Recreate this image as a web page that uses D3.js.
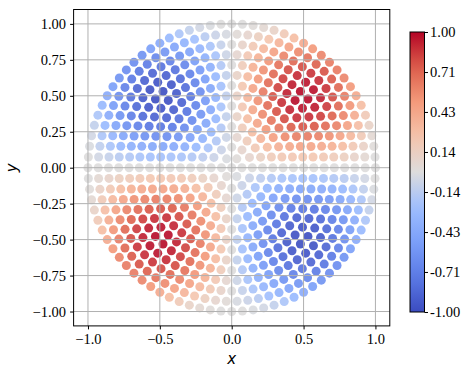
<!DOCTYPE html>
<html>
<head>
<meta charset="utf-8">
<script src="https://cdn.jsdelivr.net/npm/d3@7"></script>
<style>
  body { margin: 0; background: #fff; }
  svg text { font-family: "Liberation Serif", "DejaVu Serif", serif; fill: #000; }
</style>
</head>
<body>
<svg id="chart" width="474" height="378"></svg>
<script>
// radius of each ring of sample points (ring 0 is the centre point)
const ringRadius = [0, 0.071, 0.143, 0.214, 0.286, 0.357, 0.429, 0.5, 0.571, 0.643, 0.714, 0.786, 0.857, 0.929, 1.0];

// value of every point on each ring, counter-clockwise starting at the +x axis
const ring0 = [0];
const ring1 = [0, .02, -.02, 0, .02, -.02];
const ring2 = [0, .08, .08, 0, -.08, -.08, 0, .08, .08, 0, -.08, -.08];
const ring3 = [0, .13, .21, .18, .07, -.07, -.18, -.21, -.13, 0, .13, .21, .18, .07, -.07, -.18, -.21, -.13];
const ring4 = [0, .18, .30, .35, .30, .18, 0, -.18, -.30, -.35, -.30, -.18, 0, .18, .30, .35, .30, .18, 0, -.18, -.30, -.35, -.30, -.18];
const ring5 = [0, .21, .38, .48, .51, .44, .30, .11, -.11, -.30, -.44, -.51, -.48, -.38, -.21,
               0, .21, .38, .48, .51, .44, .30, .11, -.11, -.30, -.44, -.51, -.48, -.38, -.21];
const ring6 = [0, .22, .42, .57, .65, .65, .57, .42, .22, 0, -.22, -.42, -.57, -.65, -.65, -.57, -.42, -.22,
               0, .22, .42, .57, .65, .65, .57, .42, .22, 0, -.22, -.42, -.57, -.65, -.65, -.57, -.42, -.22];
const ring7 = [0, .23, .45, .62, .75, .80, .78, .69, .54, .34, .12, -.12, -.34, -.54, -.69, -.78, -.80, -.75, -.62, -.45, -.23,
               0, .23, .45, .62, .75, .80, .78, .69, .54, .34, .12, -.12, -.34, -.54, -.69, -.78, -.80, -.75, -.62, -.45, -.23];
const ring8 = [0, .23, .44, .63, .78, .88, .91, .88, .78, .63, .44, .23, 0, -.23, -.44, -.63, -.78, -.88, -.91, -.88, -.78, -.63, -.44, -.23,
               0, .23, .44, .63, .78, .88, .91, .88, .78, .63, .44, .23, 0, -.23, -.44, -.63, -.78, -.88, -.91, -.88, -.78, -.63, -.44, -.23];
const ring9 = [0, .21, .41, .60, .77, .89, .96, .98, .93, .83, .69, .51, .31, .11, -.11, -.31, -.51, -.69, -.83, -.93, -.98, -.96, -.89, -.77, -.60, -.41, -.21,
               0, .21, .41, .60, .77, .89, .96, .98, .93, .83, .69, .51, .31, .11, -.11, -.31, -.51, -.69, -.83, -.93, -.98, -.96, -.89, -.77, -.60, -.41, -.21];
const ring10 = [0, .18, .37, .54, .70, .84, .94, .99, .99, .94, .84, .70, .54, .37, .18, 0, -.18, -.37, -.54, -.70, -.84, -.94, -.99, -.99, -.94, -.84, -.70, -.54, -.37, -.18,
                0, .18, .37, .54, .70, .84, .94, .99, .99, .94, .84, .70, .54, .37, .18, 0, -.18, -.37, -.54, -.70, -.84, -.94, -.99, -.99, -.94, -.84, -.70, -.54, -.37, -.18];
const ring11 = [0, .15, .30, .45, .60, .73, .85, .93, .97, .96, .90, .80, .67, .52, .37, .22, .07, -.07, -.22, -.37, -.52, -.67, -.80, -.90, -.96, -.97, -.93, -.85, -.73, -.60, -.45, -.30, -.15,
                0, .15, .30, .45, .60, .73, .85, .93, .97, .96, .90, .80, .67, .52, .37, .22, .07, -.07, -.22, -.37, -.52, -.67, -.80, -.90, -.96, -.97, -.93, -.85, -.73, -.60, -.45, -.30, -.15];
const ring12 = [0, .10, .21, .33, .46, .59, .71, .80, .87, .89, .87, .80, .71, .59, .46, .33, .21, .10, 0, -.10, -.21, -.33, -.46, -.59, -.71, -.80, -.87, -.89, -.87, -.80, -.71, -.59, -.46, -.33, -.21, -.10,
                0, .10, .21, .33, .46, .59, .71, .80, .87, .89, .87, .80, .71, .59, .46, .33, .21, .10, 0, -.10, -.21, -.33, -.46, -.59, -.71, -.80, -.87, -.89, -.87, -.80, -.71, -.59, -.46, -.33, -.21, -.10];
const ring13 = [0, .05, .12, .20, .29, .40, .52, .63, .71, .76, .78, .74, .67, .57, .46, .35, .24, .15, .08, .03, -.03, -.08, -.15, -.24, -.35, -.46, -.57, -.67, -.74, -.78, -.76, -.71, -.63, -.52, -.40, -.29, -.20, -.12, -.05,
                0, .05, .12, .20, .29, .40, .52, .63, .71, .76, .78, .74, .67, .57, .46, .35, .24, .15, .08, .03, -.03, -.08, -.15, -.24, -.35, -.46, -.57, -.67, -.74, -.78, -.76, -.71, -.63, -.52, -.40, -.29, -.20, -.12, -.05];
const ring14 = [0, 0, .02, .05, .11, .20, .30, .41, .51, .59, .63, .63, .59, .51, .41, .30, .20, .11, .05, .02, 0, 0, 0, -.02, -.05, -.11, -.20, -.30, -.41, -.51, -.59, -.63, -.63, -.59, -.51, -.41, -.30, -.20, -.11, -.05, -.02, 0,
                0, 0, .02, .05, .11, .20, .30, .41, .51, .59, .63, .63, .59, .51, .41, .30, .20, .11, .05, .02, 0, 0, 0, -.02, -.05, -.11, -.20, -.30, -.41, -.51, -.59, -.63, -.63, -.59, -.51, -.41, -.30, -.20, -.11, -.05, -.02, 0];
const ringValues = [ring0, ring1, ring2, ring3, ring4, ring5, ring6, ring7, ring8, ring9, ring10, ring11, ring12, ring13, ring14];

const xTicks = [-1, -0.5, 0, 0.5, 1];
const yTicks = [-1, -0.75, -0.5, -0.25, 0, 0.25, 0.5, 0.75, 1];
const colorTicks = [1, 0.714, 0.429, 0.143, -0.143, -0.429, -0.714, -1];
const colorTickLabels = ['1.00', '0.71', '0.43', '0.14', '-0.14', '-0.43', '-0.71', '-1.00'];

// matplotlib "coolwarm"
const coolwarmStops = ['#3b4cc0', '#5b7ae5', '#7b9ff9', '#9ebeff', '#dddcdc', '#f5c4ac', '#f49a7b', '#dc5d4a', '#b40426'];
const color = d3.scaleLinear()
  .domain(d3.range(coolwarmStops.length).map(i => -1 + 2 * i / (coolwarmStops.length - 1)))
  .range(coolwarmStops)
  .interpolate(d3.interpolateRgb)
  .clamp(true);

const plot = { left: 73.6, right: 389.8, top: 9.5, bottom: 325.9 };
const bar = { left: 410, width: 14.5, top: 32, bottom: 312 };

const svg = d3.select('#chart');

const x = d3.scaleLinear().domain([-1.1, 1.1]).range([plot.left, plot.right]);
const y = d3.scaleLinear().domain([-1.1, 1.1]).range([plot.bottom, plot.top]);

// unfold each ring into points
const points = [];
ringValues.forEach((vals, k) => {
  const angle = d3.scaleLinear().domain([0, vals.length]).range([0, 2 * Math.PI]);
  vals.forEach((v, j) => {
    points.push({ x: ringRadius[k] * Math.cos(angle(j)), y: ringRadius[k] * Math.sin(angle(j)), v: v });
  });
});

svg.append('g')
  .selectAll('circle')
  .data(points)
  .enter().append('circle')
  .attr('cx', d => x(d.x))
  .attr('cy', d => y(d.y))
  .attr('r', 4.5)
  .style('fill', d => color(d.v))
  .style('fill-opacity', 0.9);

// grid on top of the points, like matplotlib
const grid = svg.append('g').attr('stroke', '#b0b0b0').attr('stroke-width', 1);
grid.selectAll('.gx').data(xTicks).enter().append('line')
  .attr('x1', d => x(d)).attr('x2', d => x(d))
  .attr('y1', plot.top).attr('y2', plot.bottom);
grid.selectAll('.gy').data(yTicks).enter().append('line')
  .attr('y1', d => y(d)).attr('y2', d => y(d))
  .attr('x1', plot.left).attr('x2', plot.right);

const minus = s => s.replace('-', '\u2212');

svg.append('g')
  .attr('transform', 'translate(0,' + plot.bottom + ')')
  .call(d3.axisBottom(x).tickValues(xTicks).tickSize(3.5).tickPadding(4).tickFormat(d => minus(d3.format('.1f')(d))))
  .call(g => g.select('.domain').remove())
  .call(g => g.selectAll('text').style('font-size', '14.5px').style('font-family', '"Liberation Serif", serif'));

svg.append('g')
  .attr('transform', 'translate(' + plot.left + ',0)')
  .call(d3.axisLeft(y).tickValues(yTicks).tickSize(3.5).tickPadding(4).tickFormat(d => minus(d3.format('.2f')(d))))
  .call(g => g.select('.domain').remove())
  .call(g => g.selectAll('text').style('font-size', '14.5px').style('font-family', '"Liberation Serif", serif'));

svg.append('rect')
  .attr('x', plot.left).attr('y', plot.top)
  .attr('width', plot.right - plot.left).attr('height', plot.bottom - plot.top)
  .attr('fill', 'none').attr('stroke', '#000').attr('stroke-width', 1);

svg.append('text')
  .attr('x', (plot.left + plot.right) / 2)
  .attr('y', 364)
  .attr('text-anchor', 'middle')
  .style('font-family', '"DejaVu Sans", sans-serif')
  .style('font-style', 'italic')
  .style('font-size', '15px')
  .text('x');

svg.append('text')
  .attr('transform', 'translate(17,' + (plot.top + plot.bottom) / 2 + ') rotate(-90)')
  .attr('text-anchor', 'middle')
  .style('font-family', '"DejaVu Sans", sans-serif')
  .style('font-style', 'italic')
  .style('font-size', '15px')
  .text('y');

// colorbar
const defs = svg.append('defs');
const grad = defs.append('linearGradient')
  .attr('id', 'cbar').attr('x1', 0).attr('y1', 1).attr('x2', 0).attr('y2', 0);
d3.range(0, 1.0001, 0.05).forEach(t => {
  grad.append('stop').attr('offset', t).attr('stop-color', color(-1 + 2 * t));
});

const cy = d3.scaleLinear().domain([-1, 1]).range([bar.bottom, bar.top]);

svg.append('rect')
  .attr('x', bar.left).attr('y', bar.top)
  .attr('width', bar.width).attr('height', bar.bottom - bar.top)
  .attr('fill', 'url(#cbar)')
  .attr('stroke', '#000').attr('stroke-width', 1);

svg.append('g')
  .attr('transform', 'translate(' + (bar.left + bar.width) + ',0)')
  .call(d3.axisRight(cy).tickValues(colorTicks).tickSize(3.5).tickPadding(2)
    .tickFormat((d, i) => colorTickLabels[i]))
  .call(g => g.select('.domain').remove())
  .call(g => g.selectAll('text').style('font-size', '14.5px').style('font-family', '"Liberation Serif", serif'));
</script>
</body>
</html>
